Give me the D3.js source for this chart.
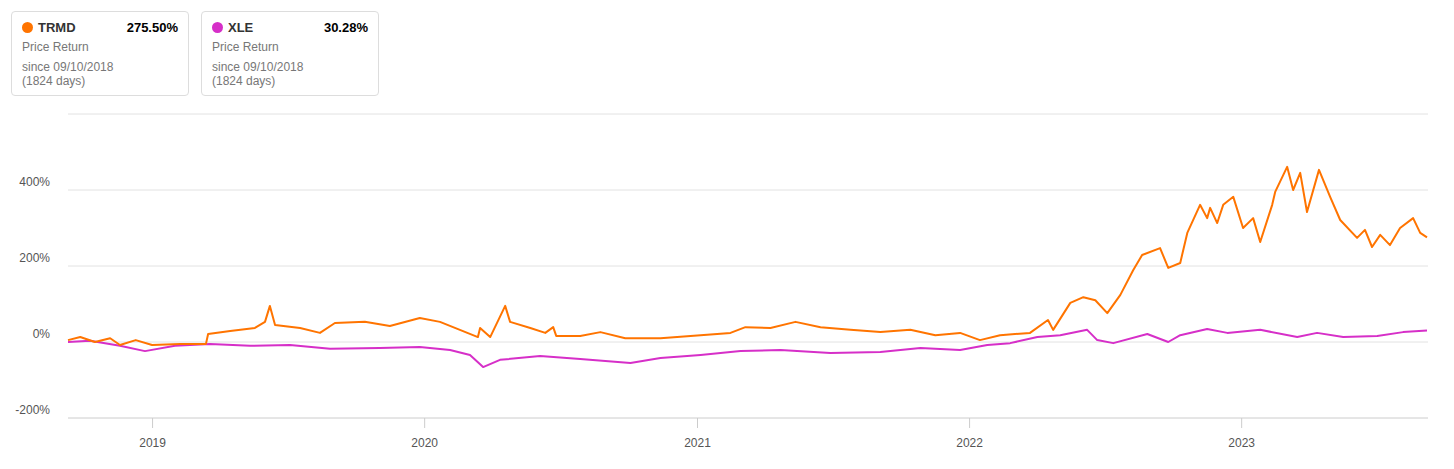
<!DOCTYPE html>
<html>
<head>
<meta charset="utf-8">
<script src="https://cdn.jsdelivr.net/npm/d3@7"></script>
<style>
  body { margin: 0; background: #fff; font-family: "Liberation Sans", Arial, sans-serif; }
  .card { position: absolute; top: 11px; width: 178px; height: 85px; border: 1px solid #ddd; border-radius: 4px; box-sizing: border-box; padding: 8px 10px; color: #777; font-size: 12px; }
  .card .hd { display: flex; justify-content: space-between; font-weight: bold; font-size: 13px; color: #333; }
  .card .hd b { color: #000; }
  .dot { display: inline-block; width: 11px; height: 11px; border-radius: 50%; margin-right: 5px; vertical-align: -1px; }
</style>
</head>
<body>
<div id="legend"></div>
<svg id="chart" width="1454" height="469" style="position:absolute;left:0;top:0"></svg>
<script>
// decimal years
const trmdDates = [2018.691,2018.736,2018.79,2018.846,2018.882,2018.94,2019.0,2019.103,2019.198,2019.206,2019.287,2019.378,2019.415,2019.433,2019.452,2019.544,2019.617,2019.672,2019.782,2019.874,2019.984,2020.058,2020.131,2020.197,2020.205,2020.242,2020.297,2020.315,2020.389,2020.444,2020.473,2020.484,2020.572,2020.646,2020.737,2020.866,2021.013,2021.123,2021.178,2021.27,2021.362,2021.454,2021.564,2021.674,2021.784,2021.876,2021.967,2022.04,2022.114,2022.224,2022.29,2022.309,2022.372,2022.42,2022.464,2022.508,2022.556,2022.603,2022.636,2022.702,2022.732,2022.776,2022.802,2022.849,2022.875,2022.886,2022.912,2022.934,2022.971,2023.007,2023.044,2023.07,2023.114,2023.125,2023.169,2023.191,2023.217,2023.242,2023.286,2023.327,2023.364,2023.426,2023.455,2023.481,2023.511,2023.547,2023.584,2023.632,2023.658,2023.683];
const trmdValues = [5,13,0,10,-8,5,-8,-5,-5,21,29,37,53,95,45,37,24,50,53,42,63,53,32,13,37,13,95,53,37,24,39,16,16,26,10,10,18,24,39,37,53,39,32,26,32,18,24,5,18,24,58,32,103,118,110,76,124,189,229,247,195,208,287,361,326,353,313,361,382,300,326,263,361,395,461,400,445,342,453,382,321,274,295,250,282,255,300,326,287,275.5];
const xleDates = [2018.691,2018.772,2018.882,2018.974,2019.084,2019.213,2019.36,2019.507,2019.654,2019.837,2019.984,2020.095,2020.168,2020.216,2020.278,2020.425,2020.572,2020.756,2020.866,2021.013,2021.16,2021.307,2021.49,2021.674,2021.821,2021.967,2022.067,2022.151,2022.251,2022.335,2022.434,2022.471,2022.53,2022.655,2022.732,2022.776,2022.875,2022.949,2023.07,2023.206,2023.279,2023.375,2023.5,2023.595,2023.683];
const xleValues = [0,3,-10,-24,-10,-5,-10,-8,-18,-16,-13,-21,-34,-66,-47,-37,-45,-55,-42,-34,-24,-21,-29,-26,-16,-21,-8,-3,13,18,32,5,-3,21,0,18,34,24,32,13,24,13,16,26,30];
const yTicks = [-200, 0, 200, 400, 600];
const series = [
  { name: "TRMD", ret: "275.50%", color: "#ff7400", dates: trmdDates, values: trmdValues },
  { name: "XLE", ret: "30.28%", color: "#d62fc8", dates: xleDates, values: xleValues }
];

const toDate = t => { const y = Math.floor(t); const a = new Date(y, 0, 1), b = new Date(y + 1, 0, 1); return new Date(+a + (t - y) * (b - a)); };

const legend = d3.select("#legend");
series.forEach((s, i) => {
  const c = legend.append("div").attr("class", "card").style("left", (11 + i * 190) + "px");
  c.append("div").attr("class", "hd").html(`<span><span class="dot" style="background:${s.color}"></span>${s.name}</span><b>${s.ret}</b>`);
  c.append("div").style("margin-top", "5px").text("Price Return");
  c.append("div").style("margin-top", "6px").style("line-height", "14px").html("since 09/10/2018<br>(1824 days)");
});

const svg = d3.select("#chart");
const x = d3.scaleTime().domain([toDate(2018.691), toDate(2023.683)]).range([68, 1427]);
const y = d3.scaleLinear().domain([-200, 600]).range([418, 114]);

svg.append("g").selectAll("line").data(yTicks).join("line")
  .attr("x1", 68).attr("x2", 1428).attr("y1", d => y(d)).attr("y2", d => y(d))
  .attr("stroke", d => d === -200 ? "#ccc" : "#e2e2e2").attr("stroke-width", 1);
svg.append("g").selectAll("text").data(yTicks.filter(d => d < 600)).join("text")
  .attr("x", 50).attr("y", d => y(d) - 4).attr("text-anchor", "end")
  .attr("font-size", 12).attr("fill", "#555").text(d => d + "%");

const xAxis = svg.append("g").attr("transform", "translate(0,418)")
  .call(d3.axisBottom(x).ticks(d3.timeYear.every(1)).tickSize(10).tickPadding(10).tickFormat(d3.timeFormat("%Y")));
xAxis.select(".domain").remove();
xAxis.selectAll("line").attr("stroke", "#ccc");
xAxis.selectAll("text").attr("font-size", 12).attr("fill", "#555").attr("font-family", "Liberation Sans, Arial, sans-serif");

const line = d3.line().x(d => x(toDate(d[0]))).y(d => y(d[1]));
[...series].reverse().forEach(s => {
  svg.append("path").datum(d3.zip(s.dates, s.values))
    .attr("fill", "none").attr("stroke", s.color).attr("stroke-width", 2)
    .attr("stroke-linejoin", "round").attr("d", line);
});
</script>
</body>
</html>
